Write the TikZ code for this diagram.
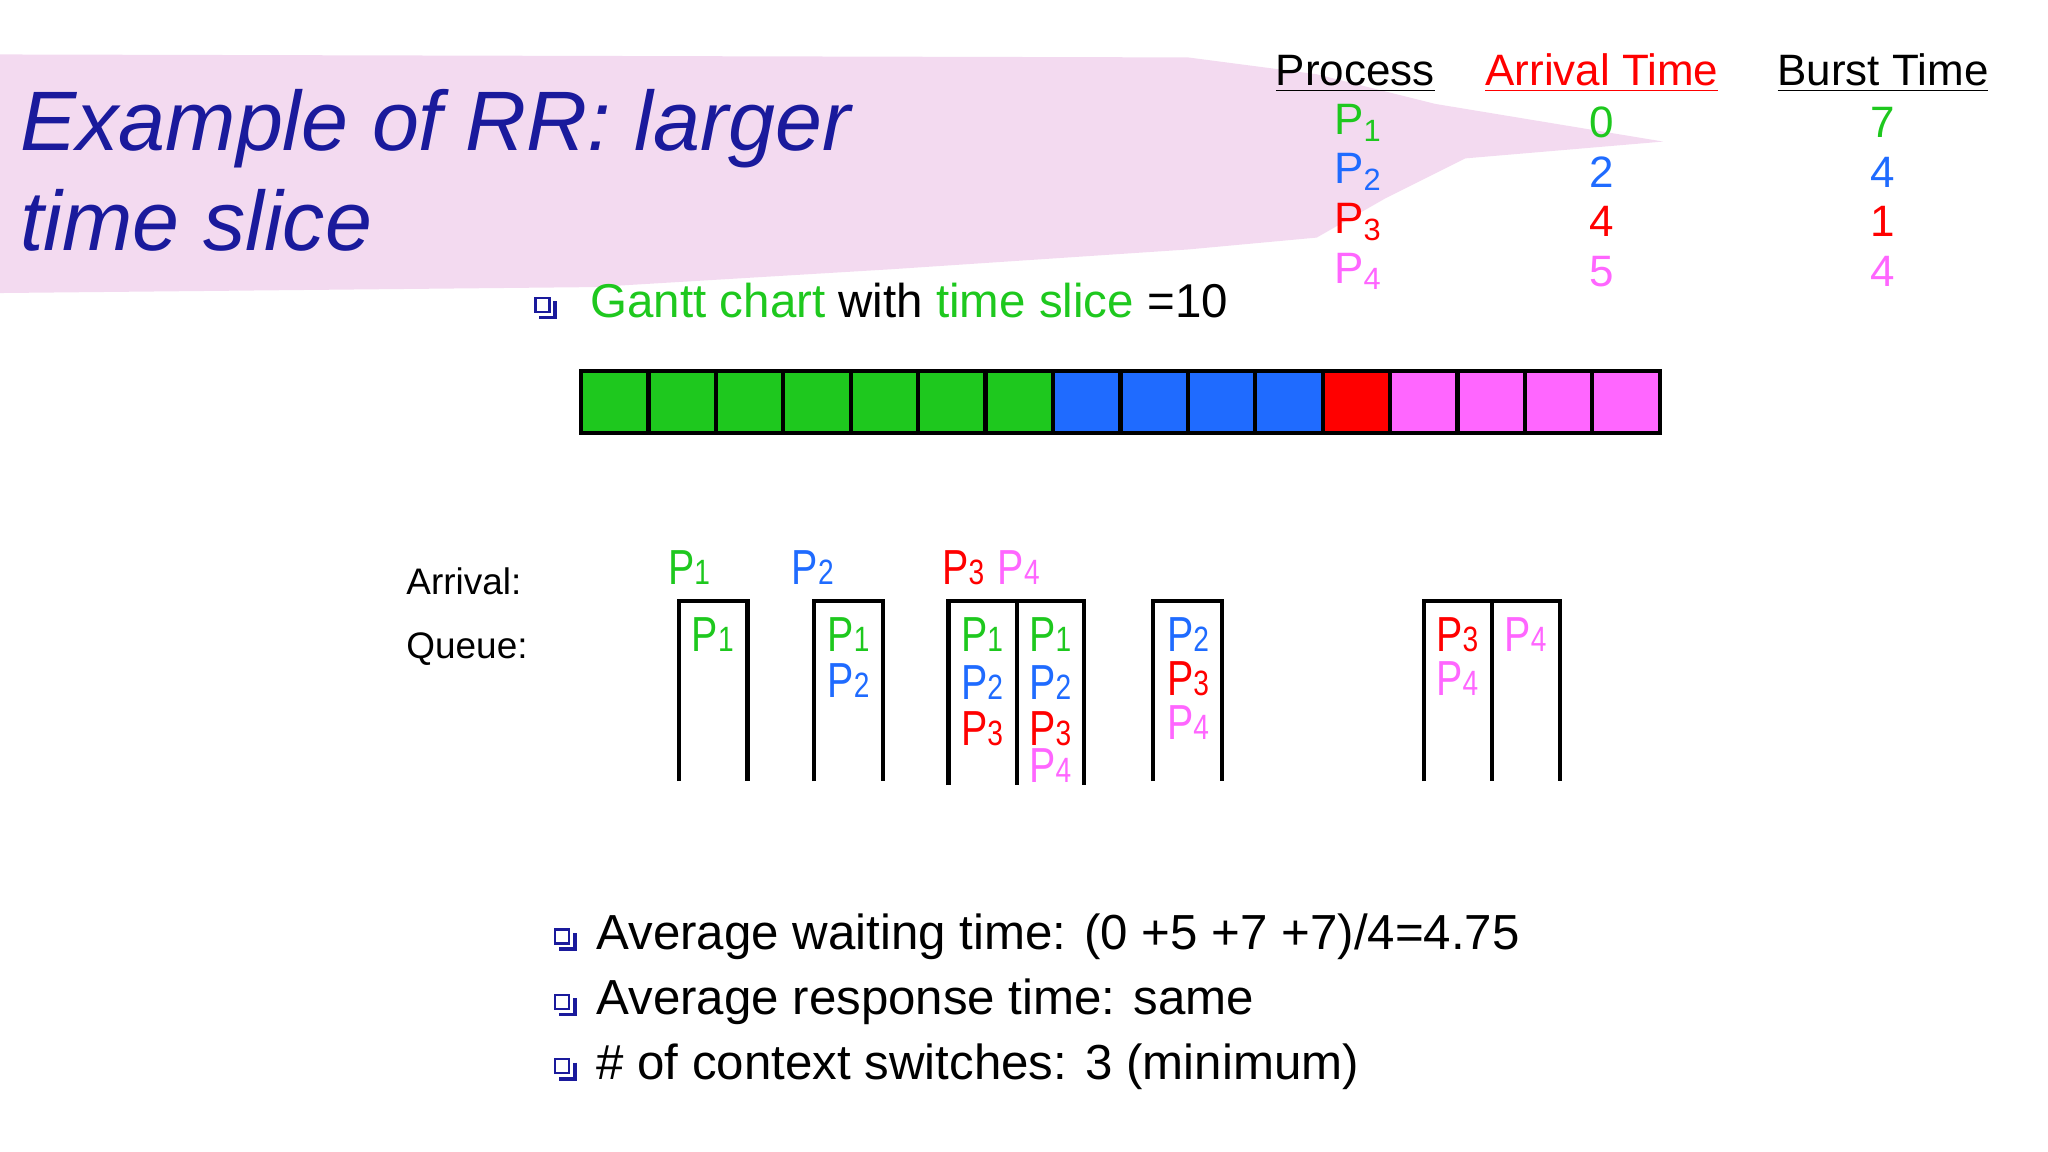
\documentclass[tikz,border=0pt]{standalone}
\usepackage{fontspec}
\setmainfont{Liberation Sans}
\usetikzlibrary{positioning}
\definecolor{pgreen}{HTML}{1EC81E}
\definecolor{pblue}{HTML}{1F6BFF}
\definecolor{pred}{HTML}{FF0000}
\definecolor{ppink}{HTML}{FF66FF}
\definecolor{navy}{HTML}{1A1A9C}
\definecolor{brush}{HTML}{F3DAF0}
\newcommand{\pp}[2] {\textcolor{#1}{P{\fontsize{10}{10}\selectfont #2}}}
\newcommand{\ganttcell}[3] {\node at (#1,406) (#2) [cell, fill=#3] {};}
\newcommand{\bulletmark}[2] {\node at (#1) (#2) [bulletbox] {};
  \draw [navy, line width=1.1pt] ([xshift=1.3pt,yshift=-1.3pt]#2.north east) -- ([xshift=1.3pt,yshift=-1.3pt]#2.south east) -- ([xshift=1.3pt,yshift=-1.3pt]#2.south west);}
\begin{document}
\begin{tikzpicture}[x=0.01cm, y=-0.01cm,
  cell/.style={draw, line width=1.2pt, minimum width=68.1*0.0099cm, minimum height=62*0.0099cm, inner sep=0pt},
  qtext/.style={font=\fontsize{14}{14}\selectfont, xscale=0.8, inner sep=0pt},
  hdr/.style={font=\fontsize{12.5}{12.5}\selectfont, anchor=base},
  cellval/.style={font=\fontsize{12.5}{12.5}\selectfont},
  bulletbox/.style={draw=navy, line width=0.6pt, minimum size=0.14cm, inner sep=0pt},
  body/.style={font=\fontsize{14}{14}\selectfont, anchor=base west},
  qline/.style={line width=1.2pt}]
\useasboundingbox (0,0) rectangle (2048,1152);
\begin{scope}[scale=0.99]
% brush band behind the title
\fill [brush] (0,55) -- (1200,58) -- (1330,75) -- (1450,105) -- (1680,143) -- (1480,160)
  -- (1400,200) -- (1330,240) -- (1200,252) -- (900,272) -- (600,290) -- (0,296) -- cycle;

\node at (8,152) (title1) [anchor=base west, navy, font=\fontsize{24}{24}\selectfont\itshape] {Example of RR: larger};
\node at (8,253) (title2) [anchor=base west, navy, font=\fontsize{24}{24}\selectfont\itshape] {time slice};

% process table
\node at (1369,86) (hproc) [hdr] {\underline{Process}};
\node at (1618,86) (harr) [hdr, pred] {\underline{Arrival Time}};
\node at (1902,86) (hburst) [hdr] {\underline{Burst Time}};
\foreach \i/\c/\a/\b [count=\r] in {1/pgreen/0/7, 2/pblue/2/4, 3/pred/4/1, 4/ppink/5/4} {
  \node at (1372,74+50*\r) (tp\i) [cellval, \c] {P\textsubscript{\i}};
  \node at (1618,74+50*\r) (ta\i) [cellval, \c] {\a};
  \node at (1902,74+50*\r) (tb\i) [cellval, \c] {\b};
}

% gantt chart
\bulletmark{548,308}{b0}
\node at (584,321) (gtitle) [anchor=base west, font=\fontsize{13.5}{13.5}\selectfont] {\textcolor{pgreen}{Gantt\ chart} with\ \textcolor{pgreen}{time\ slice} =10};
\foreach \k in {0,...,15} {
  \pgfmathsetmacro{\gx}{621+68.1*\k}
  \ifnum\k<7 \ganttcell{\gx}{g\k}{pgreen}
  \else\ifnum\k<11 \ganttcell{\gx}{g\k}{pblue}
  \else\ifnum\k<12 \ganttcell{\gx}{g\k}{pred}
  \else \ganttcell{\gx}{g\k}{ppink}\fi\fi\fi
}

% arrivals and queue
\node at (398,587) (arrival) [anchor=west, font=\fontsize{10.5}{10.5}\selectfont] {Arrival:};
\node at (398,656) (queue) [anchor=west, font=\fontsize{10.5}{10.5}\selectfont] {Queue:};
\node at (696,573) (a1) [qtext] {\pp{pgreen}{1}};
\node at (821,573) (a2) [qtext] {\pp{pblue}{2}};
\node at (973,573) (a3) [qtext] {\pp{pred}{3}};
\node at (1029,573) (a4) [qtext] {\pp{ppink}{4}};

\draw [qline] (686,789) -- (686,607) -- (755,607) -- (755,789);
\draw [qline] (822,789) -- (822,607) -- (892,607) -- (892,789);
\draw [qline] (958,793) -- (958,607) -- (1095,607) -- (1095,793);
\draw [qline] (1027,607) -- (1027,793);
\draw [qline] (1165,789) -- (1165,607) -- (1234,607) -- (1234,789);
\draw [qline] (1438,789) -- (1438,607) -- (1576,607) -- (1576,789);
\draw [qline] (1507,607) -- (1507,789);

\node at (720,641) (q1) [qtext] {\pp{pgreen}{1}};
\node at (857,641) (q2a) [qtext] {\pp{pgreen}{1}};
\node at (857,687) (q2b) [qtext] {\pp{pblue}{2}};
\node at (992,641) (q3a) [qtext] {\pp{pgreen}{1}};
\node at (992,689) (q3b) [qtext] {\pp{pblue}{2}};
\node at (992,736) (q3c) [qtext] {\pp{pred}{3}};
\node at (1061,641) (q4a) [qtext] {\pp{pgreen}{1}};
\node at (1061,689) (q4b) [qtext] {\pp{pblue}{2}};
\node at (1061,736) (q4c) [qtext] {\pp{pred}{3}};
\node at (1061,773) (q4d) [qtext] {\pp{ppink}{4}};
\node at (1200,641) (q5a) [qtext] {\pp{pblue}{2}};
\node at (1200,686) (q5b) [qtext] {\pp{pred}{3}};
\node at (1200,730) (q5c) [qtext] {\pp{ppink}{4}};
\node at (1472,641) (q6a) [qtext] {\pp{pred}{3}};
\node at (1472,685) (q6b) [qtext] {\pp{ppink}{4}};
\node at (1541,641) (q7a) [qtext] {\pp{ppink}{4}};

% summary bullets
\bulletmark{568,946}{b1}
\bulletmark{568,1012}{b2}
\bulletmark{568,1077}{b3}
\node at (590,959) (s1) [body] {Average waiting time: (0 +5 +7 +7)/4=4.75};
\node at (590,1025) (s2) [body] {Average response time: same};
\node at (590,1090) (s3) [body] {\# of context switches: 3 (minimum)};
\end{scope}
\end{tikzpicture}
\end{document}
